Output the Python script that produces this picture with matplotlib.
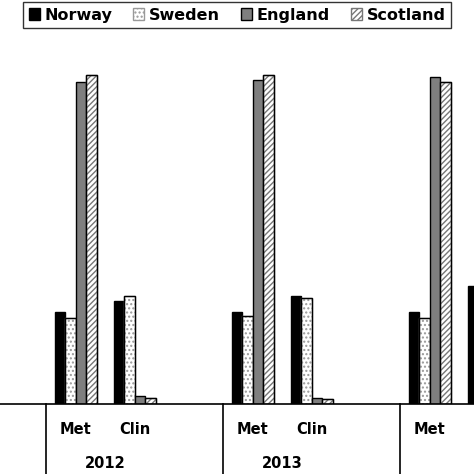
import matplotlib
matplotlib.use("Agg")
import matplotlib.pyplot as plt
import matplotlib.transforms as mtransforms
import numpy as np

years = ["2012", "2013", "2014"]
cats = ["Met", "Clin"]
series = ["Norway", "Sweden", "England", "Scotland"]
# values per slot: 2012 Met, 2012 Clin, 2013 Met, 2013 Clin, 2014 Met, 2014 Clin
norway   = [92, 103, 92, 108, 92, 118]
sweden   = [86, 108, 88, 106, 86, 110]
england  = [322, 8, 324, 6, 327, 7]
scotland = [329, 6, 329, 5, 322, 5]

slot_pos = [0, 1, 3, 4, 6, 7]
W = 474
fig = plt.figure(figsize=(W/100, W/100), dpi=100)
ax = fig.add_axes([0, 70/W, 1, 344/W])
ax.set_xlim(-75.5/59, (474-75.5)/59)
ax.set_ylim(0, 344)
for s in ax.spines.values():
    s.set_visible(False)
ax.spines['bottom'].set_visible(True)
ax.spines['bottom'].set_linewidth(1.2)
ax.set_xticks([]); ax.set_yticks([])

bw = 10.5/59
styles = [dict(color="black", edgecolor="black"),
          dict(color="white", edgecolor="#999999", hatch="...."),
          dict(color="#7f7f7f", edgecolor="black"),
          dict(color="white", edgecolor="#777777", hatch="//////")]
data = [norway, sweden, england, scotland]
x = np.array(slot_pos, dtype=float)
for i, (name, vals, st) in enumerate(zip(series, data, styles)):
    ax.bar(x + (i - 1.5) * bw, vals, bw, label=name, linewidth=1, **st)
    if i in (1, 3):
        ax.bar(x + (i - 1.5) * bw, vals, bw, fill=False, edgecolor="black", linewidth=1)

tr = mtransforms.blended_transform_factory(ax.transData, ax.transAxes)
for k in range(3):
    sep = 3 * k - 0.5
    ax.plot([sep, sep], [0, -70/344], color="black", lw=1.2, transform=tr, clip_on=False)
    for j, c in enumerate(cats):
        if k == 2 and j == 1:
            continue
        ax.text(3 * k + j, -26/344, c, transform=tr, ha="center", va="center",
                fontsize=10.5, fontweight="bold", clip_on=False)
    if k < 2:
        ax.text(3 * k + 0.5, -60/344, years[k], transform=tr, ha="center", va="center",
                fontsize=10.5, fontweight="bold", clip_on=False)

fig.legend(loc="upper left", bbox_to_anchor=(23/W, 1 - 2/W), ncol=4, frameon=True,
           fancybox=False, edgecolor="black", prop={"weight": "bold", "size": 11.5},
           handlelength=0.7, handleheight=0.7, handletextpad=0.3, columnspacing=1.3,
           borderpad=0.35, borderaxespad=0)
fig.savefig("out.png", dpi=100)
